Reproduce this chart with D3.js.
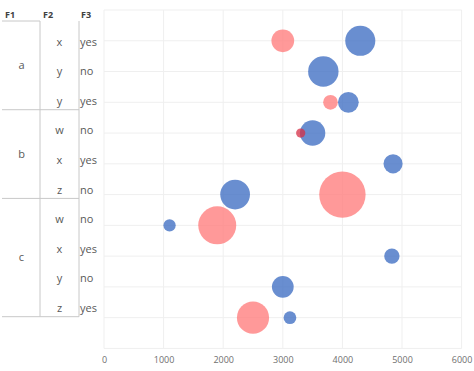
<!DOCTYPE html>
<html>
<head>
<meta charset="utf-8">
<script src="https://cdn.jsdelivr.net/npm/d3@7"></script>
<style>
    html, body { margin: 0; padding: 0; background: #fff; }
    svg { display: block; font-family: 'Segoe UI', 'Open Sans', 'Noto Sans', sans-serif; }
</style>
</head>
<body>
<div class="chart"></div>
<script>
// category table (one entry per row, top to bottom)
const f1 = ['a', 'a', 'a', 'b', 'b', 'b', 'c', 'c', 'c', 'c'];
const f2 = ['x', 'y', 'y', 'w', 'x', 'z', 'w', 'x', 'y', 'z'];
const f3 = ['yes', 'no', 'yes', 'no', 'yes', 'no', 'no', 'yes', 'no', 'yes'];
const headers = ['F1', 'F2', 'F3'];

// bubble series: x value and bubble size per row (null = no bubble)
const blueX = [4300, 3680, 4100, 3500, 4850, 2200, 1100, 4830, 3000, 3120];
const blueSize = [42, 43, 20, 30, 17, 41, 7, 11, 22, 7.5];
const pinkX = [3000, null, 3800, null, null, 4000, 1900, null, null, 2500];
const pinkSize = [24, null, 10, null, null, 100, 67, null, null, 48];
const redX = [null, null, null, 3300, null, null, null, null, null, null];
const redSize = [null, null, null, 4, null, null, null, null, null, null];

const xTicks = [0, 1000, 2000, 3000, 4000, 5000, 6000];

(function () {
    'use strict';

    const width = 474, height = 371;
    const plot = { left: 104, right: 461.6, top: 10, bottom: 348.4 };
    const table = { top: 21, bottom: 316.7, left: 2, c1: 40, c2: 79 };
    const textColor = '#595959';
    const lineColor = '#c8c8c8';
    const gridColor = '#efefef';

    const svg = d3.select('.chart').append('svg')
        .attr('width', width).attr('height', height);

    const x = d3.scaleLinear().domain([0, 6000]).range([plot.left, plot.right]);
    const y = d3.scaleLinear().domain([0, f1.length + 1]).range([plot.top, plot.bottom]);
    const r = d3.scaleSqrt().domain([0, 100]).range([0, 23.2]);

    // grid
    const grid = svg.append('g').attr('class', 'grid').attr('stroke', gridColor).attr('stroke-width', 1);
    grid.selectAll('.gx').data(xTicks).enter().append('line')
        .attr('x1', d => x(d)).attr('x2', d => x(d))
        .attr('y1', plot.top).attr('y2', plot.bottom);
    grid.selectAll('.gy').data(d3.range(0, f1.length + 2)).enter().append('line')
        .attr('x1', plot.left).attr('x2', plot.right)
        .attr('y1', d => y(d)).attr('y2', d => y(d));

    // x axis labels
    const xAxis = d3.axisBottom(x).tickValues(xTicks).tickFormat(d3.format('d')).tickSize(0).tickPadding(8);
    svg.append('g').attr('transform', 'translate(0,' + plot.bottom + ')').call(xAxis)
        .call(g => g.select('.domain').remove())
        .call(g => g.selectAll('text')
            .style('font-family', "'Segoe UI', 'Open Sans', 'Noto Sans', sans-serif")
            .style('font-size', '9px').attr('fill', '#6f6f6f'));

    // category table on the left
    const rows = d3.scaleBand().domain(d3.range(f1.length)).range([table.top, table.bottom]);
    const tbl = svg.append('g').attr('class', 'table');

    tbl.selectAll('.hdr').data(headers).enter().append('text')
        .attr('x', (d, i) => [5, 43, 81][i]).attr('y', 18)
        .style('font-size', '9px').style('font-weight', 'bold')
        .attr('fill', '#404040').text(d => d);

    const lines = tbl.append('g').attr('stroke', lineColor).attr('stroke-width', 1);
    lines.append('line').attr('x1', table.left).attr('x2', table.c1).attr('y1', table.top).attr('y2', table.top);
    lines.append('line').attr('x1', table.c1).attr('x2', table.c1).attr('y1', table.top).attr('y2', table.bottom);
    lines.append('line').attr('x1', table.c2).attr('x2', table.c2).attr('y1', table.top).attr('y2', table.bottom);

    // group boundaries for F1
    const groups = [];
    f1.forEach((g, i) => {
        const last = groups[groups.length - 1];
        if (last && last.key === g) { last.end = i; } else { groups.push({ key: g, start: i, end: i }); }
    });
    groups.forEach(g => {
        const yEnd = rows(g.end) + rows.bandwidth();
        lines.append('line').attr('x1', table.left).attr('x2', table.c2).attr('y1', yEnd).attr('y2', yEnd);
    });
    tbl.selectAll('.f1').data(groups).enter().append('text')
        .attr('x', 21.5).attr('text-anchor', 'middle')
        .attr('y', d => (rows(d.start) + rows(d.end) + rows.bandwidth()) / 2 + 3.5)
        .style('font-size', '11px').attr('fill', textColor).text(d => d.key);

    tbl.selectAll('.f2').data(f2).enter().append('text')
        .attr('x', 59.5).attr('text-anchor', 'middle')
        .attr('y', (d, i) => rows(i) + rows.bandwidth() / 2 + 10)
        .style('font-size', '11px').attr('fill', textColor).text(d => d);
    tbl.selectAll('.f3').data(f3).enter().append('text')
        .attr('x', 80)
        .attr('y', (d, i) => rows(i) + rows.bandwidth() / 2 + 10)
        .style('font-size', '11px').attr('fill', textColor).text(d => d);

    // bubbles
    const series = [
        { xs: blueX, sizes: blueSize, color: '#4472c4', opacity: 0.8 },
        { xs: pinkX, sizes: pinkSize, color: '#ff8080', opacity: 0.8 },
        { xs: redX, sizes: redSize, color: '#d62f45', opacity: 0.75 }
    ];
    const bubbles = svg.append('g').attr('class', 'bubbles');
    series.forEach(s => {
        const pts = s.xs.map((v, i) => ({ v: v, size: s.sizes[i], row: i })).filter(d => d.v != null);
        bubbles.append('g').selectAll('circle').data(pts).enter().append('circle')
            .attr('cx', d => x(d.v))
            .attr('cy', d => y(d.row + 1))
            .attr('r', d => r(d.size))
            .attr('fill', s.color)
            .attr('fill-opacity', s.opacity);
    });
}());
</script>
</body>
</html>
